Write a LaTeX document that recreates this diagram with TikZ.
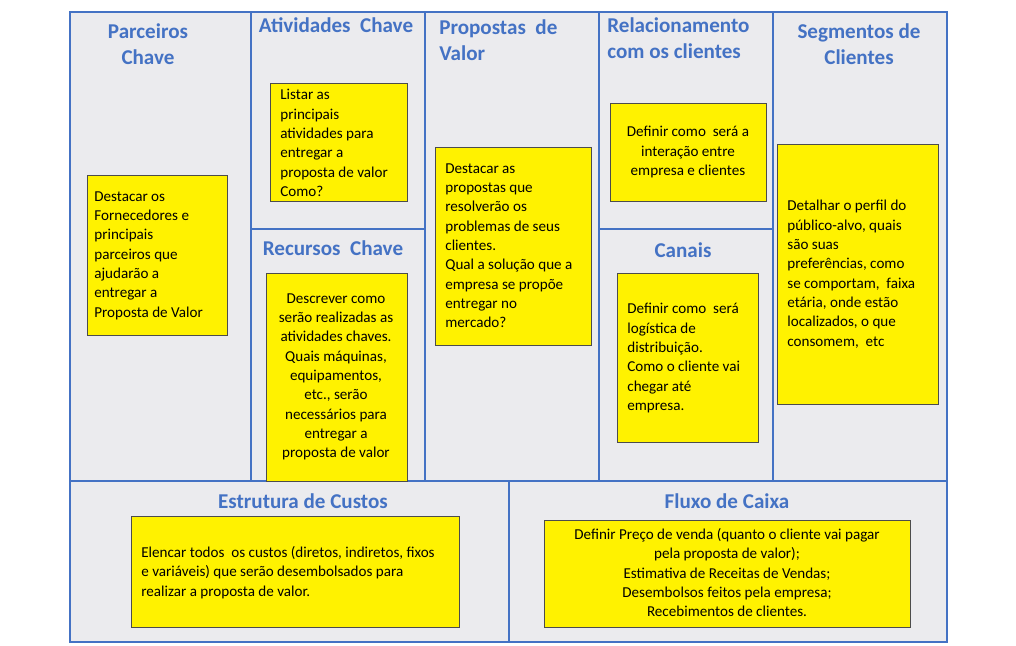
\documentclass[tikz,border=0pt]{standalone}
\usepackage{fontspec}
\setmainfont{Carlito}
\definecolor{bg}{RGB}{235,235,238}
\definecolor{ln}{RGB}{68,114,196}
\definecolor{tt}{RGB}{68,114,196}
\tikzset{
 cell/.style={draw=ln,fill=bg,line width=0.8pt},
 ybox/.style={draw=black!70,fill=yellow,line width=0.4pt},
 ttl/.style={text=tt,font=\fontsize{12}{14.7}\selectfont\bfseries,align=center,inner sep=0},
 txt/.style={font=\fontsize{8.6}{11}\selectfont,inner sep=0},
}
\begin{document}
\begin{tikzpicture}[x=0.02cm,y=-0.02cm]
\useasboundingbox (0,0) rectangle (1016,645);
\fill[white] (0,0) rectangle (1016,645);
\draw[cell] (70,12) rectangle (251,481);
\draw[cell] (251,12) rectangle (425,229);
\draw[cell] (251,229) rectangle (425,481);
\draw[cell] (425,12) rectangle (599,481);
\draw[cell] (599,12) rectangle (773,229);
\draw[cell] (599,229) rectangle (773,481);
\draw[cell] (773,12) rectangle (947,481);
\draw[cell] (70,481) rectangle (509,642);
\draw[cell] (509,481) rectangle (947,642);
% titles
\node[ttl] (t1) at (148,44) {Parceiros\\Chave};
\node[ttl] (t2) at (336,25) {Atividades\ \ Chave};
\node[ttl,align=left,anchor=west] (t3) at (439,40) {Propostas\ \ de\\Valor};
\node[ttl,align=left,anchor=west] (t4) at (607,38) {Relacionamento\\com os clientes};
\node[ttl] (t5) at (859,44) {Segmentos de\\Clientes};
\node[ttl] (t6) at (333,248) {Recursos\ \ Chave};
\node[ttl] (t7) at (683,250) {Canais};
\node[ttl] (t8) at (303,501) {Estrutura de Custos};
\node[ttl] (t9) at (727,501) {Fluxo de Caixa};
% yellow boxes
\draw[ybox] (87,175) rectangle (227,335);
\node[txt,align=left,anchor=north west] (b1) at (94,191) {Destacar os\\Fornecedores e\\principais\\parceiros que\\ajudarão a\\entregar a\\Proposta de Valor};
\draw[ybox] (270,83) rectangle (407,201);
\node[txt,align=left,anchor=north west] (b2) at (280,89) {Listar as\\principais\\atividades para\\entregar a\\proposta de valor\\Como?};
\draw[ybox] (266,273) rectangle (407,481);
\node[txt,align=center,anchor=north] (b3) at (336,293) {Descrever como\\serão realizadas as\\atividades chaves.\\Quais máquinas,\\equipamentos,\\etc., serão\\necessários para\\entregar a\\proposta de valor};
\draw[ybox] (435,147) rectangle (591,345);
\node[txt,align=left,anchor=north west] (b4) at (445,163) {Destacar as\\propostas que\\resolverão os\\problemas de seus\\clientes.\\Qual a solução que a\\empresa se propõe\\entregar no\\mercado?};
\draw[ybox] (610,103) rectangle (766,201);
\node[txt,align=center,anchor=north] (b5) at (688,126) {Definir como\ \ será a\\interação entre\\empresa e clientes};
\draw[ybox] (617,273) rectangle (758,442);
\node[txt,align=left,anchor=north west] (b6) at (627,303) {Definir como\ \ será\\logística de\\distribuição.\\Como o cliente vai\\chegar até\\empresa.};
\draw[ybox] (777,144) rectangle (938,404);
\node[txt,align=left,anchor=north west] (b7) at (787,200) {Detalhar o\ perfil do\\público-alvo, quais\\são suas\\preferências, como\\se comportam,\ \ faixa\\etária, onde estão\\localizados, o que\\consomem,\ \ etc};
\draw[ybox] (131,516) rectangle (459,627);
\node[txt,align=left,anchor=north west] (b8) at (141,546) {Elencar todos\ \ os custos (diretos, indiretos, fixos\\e variáveis) que serão desembolsados para\\realizar a proposta de valor.};
\draw[ybox] (544,520) rectangle (910,627);
\node[txt,align=center,anchor=north] (b9) at (727,528) {Definir Preço de venda (quanto o cliente vai pagar\\pela proposta de valor);\\Estimativa de Receitas de Vendas;\\Desembolsos feitos pela empresa;\\Recebimentos de clientes.};
\end{tikzpicture}
\end{document}
